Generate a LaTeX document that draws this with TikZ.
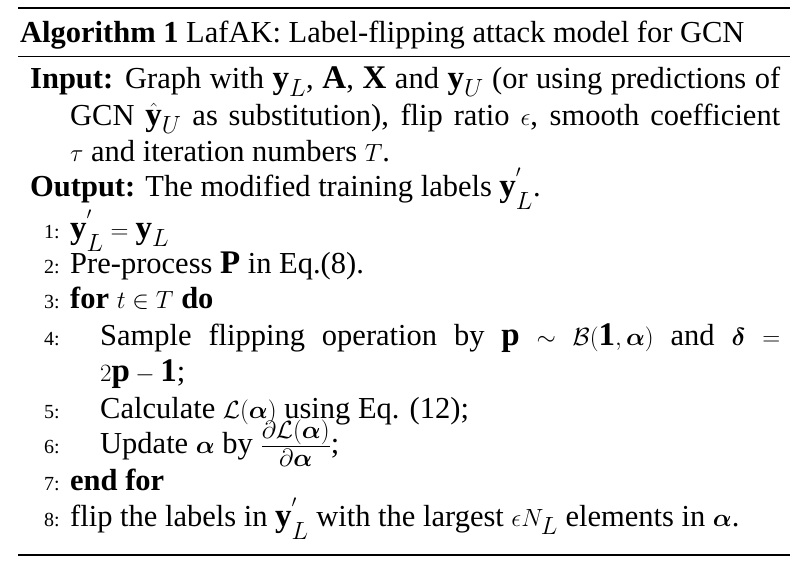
\documentclass[tikz,border=0pt]{standalone}
\usepackage{amsmath,amssymb,bm}
\usepackage{fontspec}
\setmainfont{Liberation Serif}
\DeclareMathSizes{30.5}{33}{23}{18}
\begin{document}
\begin{tikzpicture}[x=1pt,y=-1pt,
  ln/.style={anchor=base east,inner sep=0pt,font=\fontsize{20}{22}\selectfont},
  tx/.style={anchor=base west,inner sep=0pt,font=\fontsize{30.5}{34}\selectfont}]
\useasboundingbox (0,0) rectangle (800,563);
\draw[line width=1.6pt] (18,8) -- (790,8);
\draw[line width=0.9pt] (18,56) -- (790,56);
\draw[line width=1.6pt] (18,555) -- (790,555);
\node[tx] (title) at (20,42) {\textbf{Algorithm 1} LafAK: Label-flipping attack model for GCN};
\node[tx] (in1) at (30,88) {\hbox to 750pt{\textbf{Input:} Graph with $\mathbf{y}_L$, $\mathbf{A}$, $\mathbf{X}$ and $\mathbf{y}_U$ (or using predictions of}};
\node[tx] (in2) at (70,125) {\hbox to 710pt{GCN $\hat{\mathbf{y}}_U$ as substitution), flip ratio $\epsilon$, smooth coefficient}};
\node[tx] (in3) at (70,161) {$\tau$ and iteration numbers $T$.};
\node[tx] (out) at (30,196) {\textbf{Output:} The modified training labels $\mathbf{y}_L^{'}$.};
\node[ln] (n1) at (60,238) {1:};
\node[tx] (s1) at (70,238) {$\mathbf{y}_L^{'}=\mathbf{y}_L$};
\node[ln] (n2) at (60,273) {2:};
\node[tx] (s2) at (70,273) {Pre-process $\mathbf{P}$ in Eq.(8).};
\node[ln] (n3) at (60,308) {3:};
\node[tx] (s3) at (70,308) {\textbf{for} $t\in T$ \textbf{do}};
\node[ln] (n4) at (60,345) {4:};
\node[tx] (s4) at (100,345) {\hbox to 680pt{Sample flipping operation by $\mathbf{p}$ $\sim$ $\mathcal{B}(\mathbf{1},\bm{\alpha})$ and $\bm{\delta}$ $=$}};
\node[tx] (s4b) at (100,381) {$2\mathbf{p}-\mathbf{1}$;};
\node[ln] (n5) at (60,418) {5:};
\node[tx] (s5) at (100,418) {Calculate $\mathcal{L}(\bm{\alpha})$ using Eq. (12);};
\node[ln] (n6) at (60,453) {6:};
\node[tx] (s6) at (100,453) {Update $\bm{\alpha}$ by $\frac{\partial\mathcal{L}(\bm{\alpha})}{\partial\bm{\alpha}}$;};
\node[ln] (n7) at (60,490) {7:};
\node[tx] (s7) at (70,490) {\textbf{end for}};
\node[ln] (n8) at (60,526) {8:};
\node[tx] (s8) at (70,526) {flip the labels in $\mathbf{y}_L^{'}$ with the largest $\epsilon N_L$ elements in $\bm{\alpha}$.};
\end{tikzpicture}
\end{document}
